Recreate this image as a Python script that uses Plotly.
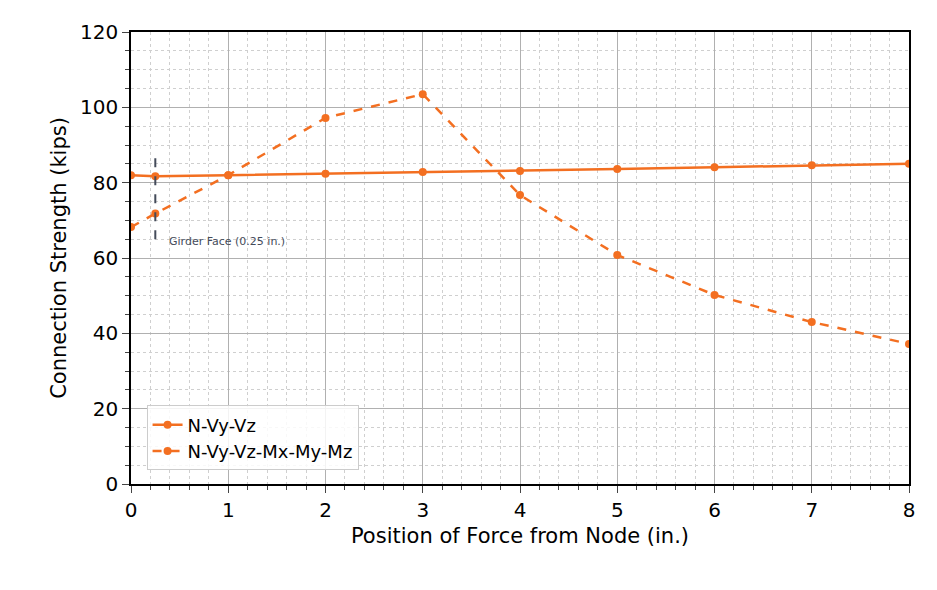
import plotly.graph_objects as go

x = [0, 0.25, 1, 2, 3, 4, 5, 6, 7, 8]
basic = [82.0, 81.7, 82.0, 82.4, 82.8, 83.1, 83.6, 84.1, 84.6, 85.0]
full = [68.2, 71.8, 82.0, 97.2, 103.5, 76.7, 60.8, 50.2, 43.0, 37.2]
face_x = 0.25
face_y = [65, 87]

orange = '#f36f21'
fig = go.Figure()
fig.add_trace(go.Scatter(x=x, y=basic, mode='lines+markers', name='N-Vy-Vz',
                         line=dict(color=orange, width=2.5), marker=dict(size=8, color=orange)))
fig.add_trace(go.Scatter(x=x, y=full, mode='lines+markers', name='N-Vy-Vz-Mx-My-Mz',
                         line=dict(color=orange, width=2.5, dash='dash'), marker=dict(size=8, color=orange)))
fig.add_trace(go.Scatter(x=[face_x, face_x], y=face_y, mode='lines', showlegend=False,
                         line=dict(color='#444b5a', width=2, dash='dash')))
fig.add_annotation(x=0.37, y=64.5, text='Girder Face (0.25 in.)', showarrow=False, xanchor='left',
                   font=dict(size=11, color='#444b5a'))

ax = dict(showline=True, linecolor='black', linewidth=1.5, mirror=True, ticks='outside',
          ticklen=7, gridcolor='#b0b0b0', gridwidth=1, zeroline=False,
          tickfont=dict(size=20, color='black'), title_font=dict(size=21, color='black'))
fig.update_xaxes(**ax, range=[0, 8], dtick=1, title_text='Position of Force from Node (in.)',
                 title_standoff=8,
                 minor=dict(dtick=0.2, ticks='outside', ticklen=4, showgrid=True,
                            gridcolor='#cfcfcf', griddash='dot'))
fig.update_yaxes(**ax, range=[0, 120], dtick=20, title_text='Connection Strength (kips)',
                 title_standoff=8,
                 minor=dict(dtick=5, ticks='outside', ticklen=4, showgrid=True,
                            gridcolor='#cfcfcf', griddash='dot'))
fig.update_layout(width=937, height=590, plot_bgcolor='white', paper_bgcolor='white',
                  font=dict(family='DejaVu Sans'),
                  margin=dict(l=123, r=36, t=24, b=114),
                  legend=dict(x=0.02, y=0.03, xanchor='left', yanchor='bottom',
                              bgcolor='rgba(255,255,255,0.85)', bordercolor='#cccccc', borderwidth=1,
                              font=dict(size=18, color='black')))
fig.write_html("out.html")
